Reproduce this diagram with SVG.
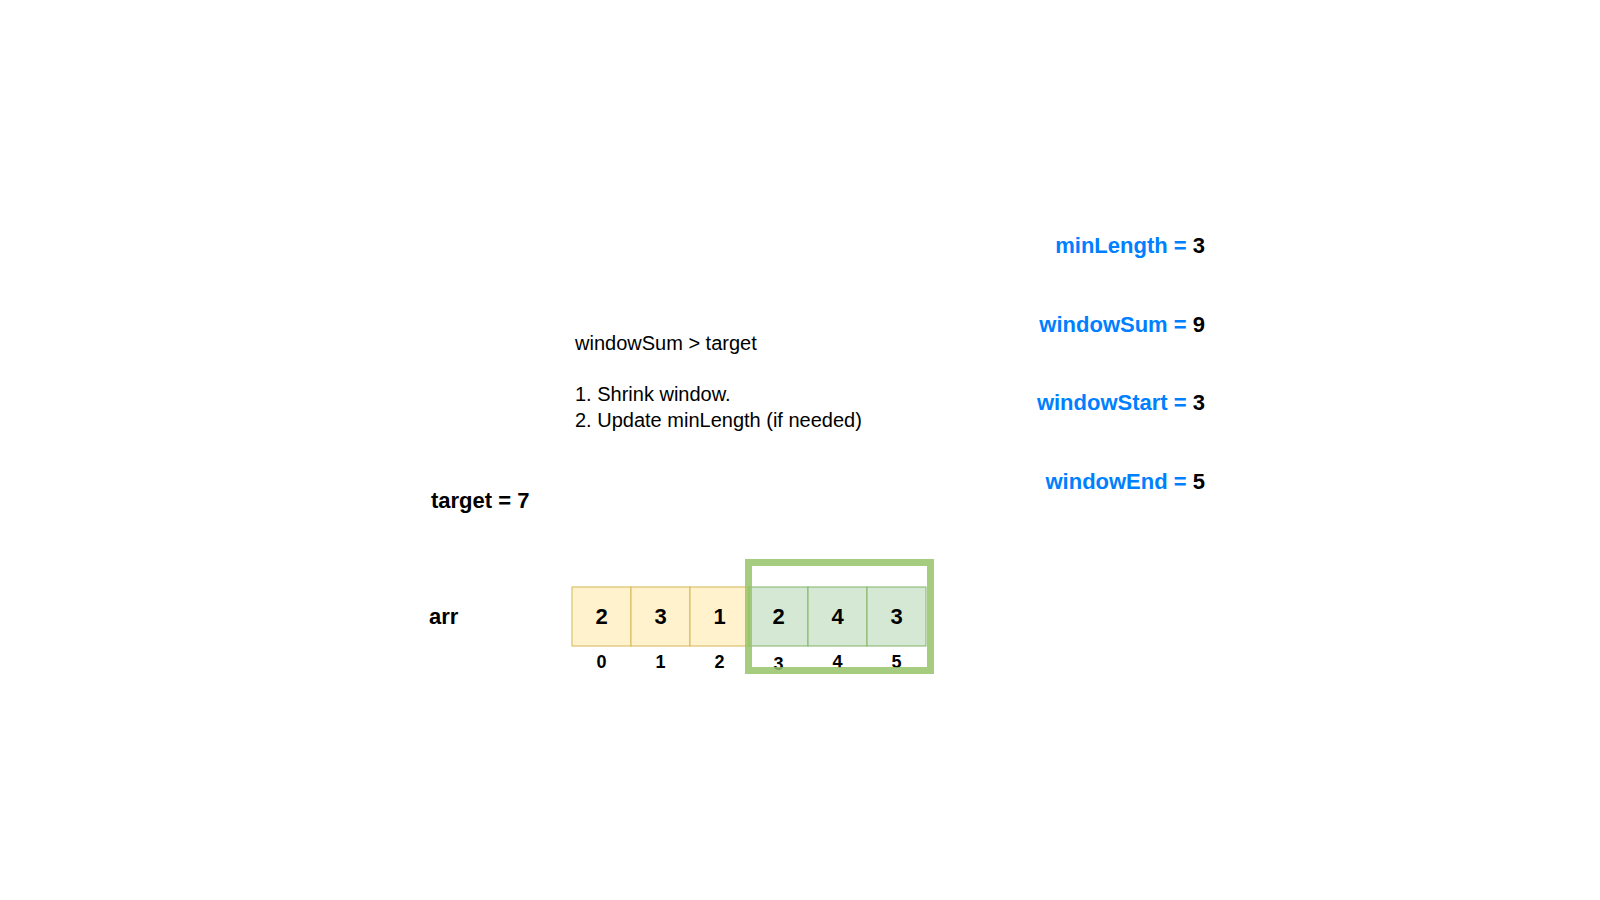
<svg xmlns="http://www.w3.org/2000/svg" width="1600" height="900" viewBox="0 0 1600 900">
<style>
text{font-family:"Liberation Sans",Arial,sans-serif;fill:#000}
.b{font-weight:bold;font-size:22px}
.v{font-weight:bold;font-size:22px;text-anchor:middle}
.i{font-weight:bold;font-size:18px;text-anchor:middle}
.n{font-size:20px}
.lab{font-weight:bold;font-size:22px;text-anchor:end}
.blue{fill:#007FFF}
.y{fill:#fff2cc;stroke:#d6b656}
.g{fill:#d5e8d4;stroke:#82b366}
</style>
<rect width="1600" height="900" fill="#fff"/>
<g id="info">
<text class="n" x="575" y="350">windowSum &gt; target</text>
<text class="n" x="575" y="401">1. Shrink window.</text>
<text class="n" x="575" y="427">2. Update minLength (if needed)</text>
</g>
<g id="vars">
<text class="lab" x="1205" y="253"><tspan class="blue">minLength = </tspan>3</text>
<text class="lab" x="1205" y="332"><tspan class="blue">windowSum = </tspan>9</text>
<text class="lab" x="1205" y="410"><tspan class="blue">windowStart = </tspan>3</text>
<text class="lab" x="1205" y="489"><tspan class="blue">windowEnd = </tspan>5</text>
</g>
<text class="b" x="431" y="508">target = 7</text>
<text class="b" x="429" y="624">arr</text>
<g id="cells">
<rect class="y" x="572" y="587" width="59" height="59"/>
<rect class="y" x="631" y="587" width="59" height="59"/>
<rect class="y" x="690" y="587" width="59" height="59"/>
<rect class="g" x="749" y="587" width="59" height="59"/>
<rect class="g" x="808" y="587" width="59" height="59"/>
<rect class="g" x="867" y="587" width="59" height="59"/>
<text class="v" x="601.5" y="624">2</text>
<text class="v" x="660.5" y="624">3</text>
<text class="v" x="719.5" y="624">1</text>
<text class="v" x="778.5" y="624">2</text>
<text class="v" x="837.5" y="624">4</text>
<text class="v" x="896.5" y="624">3</text>
<text class="i" x="601.5" y="668">0</text>
<text class="i" x="660.5" y="668">1</text>
<text class="i" x="719.5" y="668">2</text>
<text class="i" x="778.5" y="670">3</text>
<text class="i" x="837.5" y="668">4</text>
<text class="i" x="896.5" y="668">5</text>
</g>
<g id="window">
<rect x="748.5" y="562.5" width="182" height="108" fill="none" stroke="#97c36a" stroke-width="7" opacity="0.85"/>
</g>
</svg>
